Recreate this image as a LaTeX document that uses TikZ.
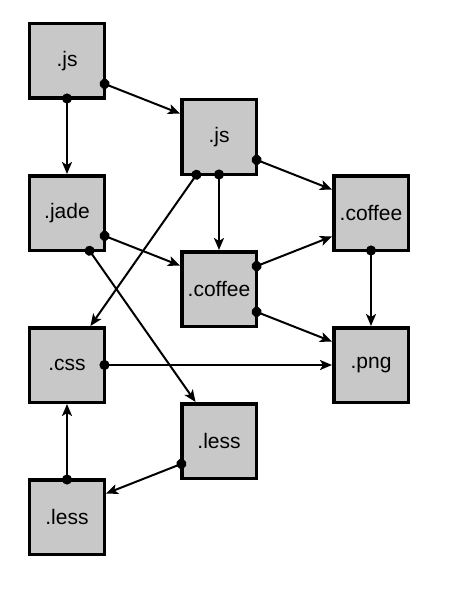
\documentclass[tikz,border=0pt]{standalone}
\usepackage{fontspec}
\setmainfont{Liberation Sans}
\usetikzlibrary{arrows.meta}
\definecolor{boxgray}{RGB}{200,200,200}
\begin{document}
\begin{tikzpicture}[x=76pt,y=-76pt]
    \tikzset{file/.style = {shape=rectangle,draw,line width=3.5pt,fill=boxgray,minimum size=74.5pt,inner sep=0pt,font=\fontsize{21}{24}\selectfont}}
    \tikzset{dep/.style = {{Circle[length=10pt]}-{Stealth[length=12pt,width=10pt,inset=3pt]},line width=2pt,shorten <=-6.5pt}}
    \useasboundingbox (-67pt,61pt) rectangle (407pt,-533pt);
    \node[file] (js1) at (0,0) {.js};
    \node[file] (js2) at (2,1) {.js};
    \node[file] (jade) at (0,2) {.jade};
    \node[file] (coffee1) at (2,3) {.coffee};
    \node[file] (coffee2) at (4,2) {.coffee};
    \node[file] (css) at (0,4) {.css};
    \node[file] (png) at (4,4) {.png};
    \node[file] (less1) at (2,5) {.less};
    \node[file] (less2) at (0,6) {.less};
    \draw[dep] (js1.-31) to (js2.149);
    \draw[dep] (js1.south) to (jade.north);
    \draw[dep] (js2.-31) to (coffee2.149);
    \draw[dep] (js2.south) to (coffee1.north);
    \draw[dep] (js2.-121) to (css.59);
    \draw[dep] (jade.-31) to (coffee1.149);
    \draw[dep] (jade.-59) to (less1.121);
    \draw[dep] (coffee1.31) to (coffee2.-149);
    \draw[dep] (coffee1.-31) to (png.149);
    \draw[dep] (coffee2.south) to (png.north);
    \draw[dep] (css.east) to (png.west);
    \draw[dep] (less1.-149) to (less2.31);
    \draw[dep] (less2.north) to (css.south);
\end{tikzpicture}
\end{document}
